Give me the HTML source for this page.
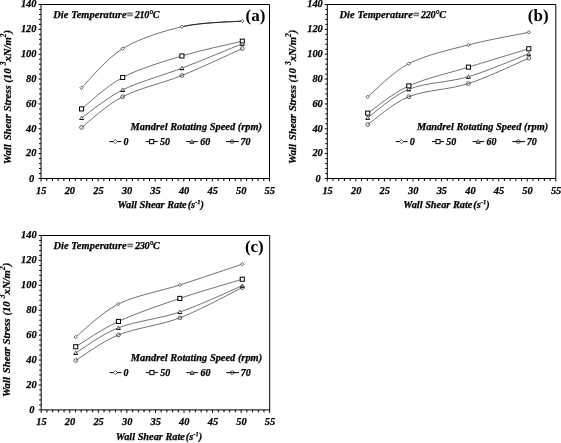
<!DOCTYPE html><html><head><meta charset="utf-8"><style>
html,body{margin:0;padding:0;background:#fff;}
svg{display:block;}
#w{}
.lb{font-family:'Liberation Serif',serif;font-weight:bold;font-style:italic;font-size:10px;fill:#000;stroke:#000;stroke-width:0.25px;}
.tl{font-size:10.4px;}
.pl{font-family:'Liberation Serif',serif;font-weight:bold;font-size:17px;fill:#000;}
.fr{fill:none;stroke:#000;stroke-width:1;}
.ax{fill:none;stroke:#000;stroke-width:1;}
.tk{fill:none;stroke:#000;stroke-width:1;}
.ln{fill:none;stroke:#333;stroke-width:0.7;}
.mk{fill:none;stroke:#222;stroke-width:0.7;}
.lg{fill:none;stroke:#000;stroke-width:1;}
.tb{fill:none;stroke:#000;stroke-width:0.9;}
.wf{fill:#fff;}
.sq{stroke:#000;stroke-width:1.0;}
</style></head><body>
<div id="w"><svg width="561" height="443" viewBox="0 0 561 443">
<rect width="561" height="443" fill="#fff"/>
<g>
<g transform="translate(0.00,0.00)">
<path d="M41.00,4.50 H269.50 V178.50" class="fr"/>
<path d="M41.00,4.50 V178.50 H269.50" class="ax"/>
<path d="M41.00,178.50 H38.50 M41.00,173.53 H39.00 M41.00,168.56 H39.00 M41.00,163.59 H39.00 M41.00,158.61 H39.00 M41.00,153.64 H38.50 M41.00,148.67 H39.00 M41.00,143.70 H39.00 M41.00,138.73 H39.00 M41.00,133.76 H39.00 M41.00,128.79 H38.50 M41.00,123.81 H39.00 M41.00,118.84 H39.00 M41.00,113.87 H39.00 M41.00,108.90 H39.00 M41.00,103.93 H38.50 M41.00,98.96 H39.00 M41.00,93.99 H39.00 M41.00,89.01 H39.00 M41.00,84.04 H39.00 M41.00,79.07 H38.50 M41.00,74.10 H39.00 M41.00,69.13 H39.00 M41.00,64.16 H39.00 M41.00,59.19 H39.00 M41.00,54.21 H38.50 M41.00,49.24 H39.00 M41.00,44.27 H39.00 M41.00,39.30 H39.00 M41.00,34.33 H39.00 M41.00,29.36 H38.50 M41.00,24.39 H39.00 M41.00,19.41 H39.00 M41.00,14.44 H39.00 M41.00,9.47 H39.00 M41.00,4.50 H38.50 M41.00,178.50 V181.50 M46.71,178.50 V181.00 M52.42,178.50 V181.00 M58.14,178.50 V181.00 M63.85,178.50 V181.00 M69.56,178.50 V181.50 M75.28,178.50 V181.00 M80.99,178.50 V181.00 M86.70,178.50 V181.00 M92.41,178.50 V181.00 M98.12,178.50 V181.50 M103.84,178.50 V181.00 M109.55,178.50 V181.00 M115.26,178.50 V181.00 M120.97,178.50 V181.00 M126.69,178.50 V181.50 M132.40,178.50 V181.00 M138.11,178.50 V181.00 M143.82,178.50 V181.00 M149.54,178.50 V181.00 M155.25,178.50 V181.50 M160.96,178.50 V181.00 M166.68,178.50 V181.00 M172.39,178.50 V181.00 M178.10,178.50 V181.00 M183.81,178.50 V181.50 M189.53,178.50 V181.00 M195.24,178.50 V181.00 M200.95,178.50 V181.00 M206.66,178.50 V181.00 M212.38,178.50 V181.50 M218.09,178.50 V181.00 M223.80,178.50 V181.00 M229.51,178.50 V181.00 M235.22,178.50 V181.00 M240.94,178.50 V181.50 M246.65,178.50 V181.00 M252.36,178.50 V181.00 M258.07,178.50 V181.00 M263.79,178.50 V181.00 M269.50,178.50 V181.50" class="tk"/>
<text x="34.30" y="181.90" class="lb tl" text-anchor="end">0</text>
<text x="36.50" y="156.44" class="lb tl" text-anchor="end">20</text>
<text x="36.50" y="131.59" class="lb tl" text-anchor="end">40</text>
<text x="36.50" y="106.73" class="lb tl" text-anchor="end">60</text>
<text x="36.50" y="81.87" class="lb tl" text-anchor="end">80</text>
<text x="36.50" y="57.01" class="lb tl" text-anchor="end">100</text>
<text x="36.50" y="32.16" class="lb tl" text-anchor="end">120</text>
<text x="36.50" y="7.30" class="lb tl" text-anchor="end">140</text>
<text x="41.30" y="193.80" class="lb tl" text-anchor="middle">15</text>
<text x="69.86" y="193.80" class="lb tl" text-anchor="middle">20</text>
<text x="98.42" y="193.80" class="lb tl" text-anchor="middle">25</text>
<text x="126.99" y="193.80" class="lb tl" text-anchor="middle">30</text>
<text x="155.55" y="193.80" class="lb tl" text-anchor="middle">35</text>
<text x="184.11" y="193.80" class="lb tl" text-anchor="middle">40</text>
<text x="212.68" y="193.80" class="lb tl" text-anchor="middle">45</text>
<text x="241.24" y="193.80" class="lb tl" text-anchor="middle">50</text>
<text x="269.80" y="193.80" class="lb tl" text-anchor="middle">55</text>
<text x="117.60" y="208.40" class="lb" style="font-size:10.3px">Wall Shear Rate<tspan dx="1">(s</tspan><tspan dy="-4" font-size="6.5">-1</tspan><tspan dy="4">)</tspan></text>
<text transform="translate(10.50,164.20) rotate(-90)" class="lb yl" style="font-size:10.7px">Wall <tspan dx="1.2">Shear</tspan> Stress (10 <tspan dy="-5" dx="0.5" font-size="7.5">3</tspan><tspan dy="5">xN/m</tspan><tspan dy="-5" font-size="7.5">2</tspan><tspan dy="5">)</tspan></text>
<text x="53.2" y="17.5" class="lb" style="font-size:10.4px;letter-spacing:0.09px">Die Temperature</text>
<text x="127.0" y="17.5" class="lb" style="font-size:10.4px;fill:#555;stroke:#777;stroke-width:0.8px">=</text>
<text x="134.7" y="17.5" class="lb" style="font-size:10.2px;letter-spacing:-0.3px">210°C</text>
<text x="245.60" y="21" class="pl">(a)</text>
<text x="130.6" y="130.1" class="lb" style="font-size:10.4px">Mandrel Rotating Speed (rpm)</text>
<path d="M109.40,141.60 H121.25" class="lg"/>
<path d="M115.25,139.50 L117.35,141.60 L115.25,143.70 L113.15,141.60 Z" class="mk wf"/>
<text x="123.40" y="144.60" class="lb">0</text>
<path d="M145.60,141.60 H157.75" class="lg"/>
<rect x="149.65" y="139.55" width="4.10" height="4.10" class="mk sq wf"/>
<text x="160.05" y="144.60" class="lb">50</text>
<path d="M186.25,141.60 H197.75" class="lg"/>
<path d="M191.90,139.70 L193.80,143.12 L190.00,143.12 Z" class="mk wf"/><path d="M189.80,143.12 H194.00" class="tb"/>
<text x="200.30" y="144.60" class="lb">60</text>
<path d="M226.00,141.60 H238.75" class="lg"/>
<circle cx="232.00" cy="141.60" r="1.9" class="mk"/>
<text x="240.55" y="144.60" class="lb">70</text>
<path d="M81.56,87.77 C88.41,81.25 105.96,58.79 122.69,48.62 C139.42,38.45 161.99,31.35 181.93,26.75 C201.86,22.15 232.24,21.98 242.31,21.03" class="ln"/>
<path d="M181.93,26.75 C201.86,22.15 232.24,21.98 242.31,21.03" class="ln" style="stroke:#111;stroke-width:0.85"/>
<path d="M81.56,108.90 C88.41,103.66 105.96,86.28 122.69,77.46 C139.42,68.63 161.99,62.00 181.93,55.95 C201.86,49.91 232.24,43.63 242.31,41.16" class="ln"/>
<path d="M81.56,117.97 C88.41,113.29 105.96,98.19 122.69,89.88 C139.42,81.58 161.99,75.82 181.93,68.13 C201.86,60.45 232.24,47.83 242.31,43.77" class="ln"/>
<path d="M81.56,127.42 C88.41,122.30 105.96,105.38 122.69,96.72 C139.42,88.06 161.99,83.50 181.93,75.47 C201.86,67.43 232.24,52.99 242.31,48.50" class="ln"/>
<path d="M81.56,86.07 L83.26,87.77 L81.56,89.47 L79.86,87.77 Z" class="mk wf"/>
<path d="M122.69,46.92 L124.39,48.62 L122.69,50.32 L120.99,48.62 Z" class="mk wf"/>
<path d="M181.93,25.05 L183.63,26.75 L181.93,28.45 L180.23,26.75 Z" class="mk wf"/>
<path d="M242.31,19.33 L244.01,21.03 L242.31,22.73 L240.61,21.03 Z" class="mk wf"/>
<rect x="79.51" y="106.85" width="4.10" height="4.10" class="mk sq wf"/>
<rect x="120.64" y="75.41" width="4.10" height="4.10" class="mk sq wf"/>
<rect x="179.88" y="53.90" width="4.10" height="4.10" class="mk sq wf"/>
<rect x="240.26" y="39.11" width="4.10" height="4.10" class="mk sq wf"/>
<path d="M81.56,116.07 L83.46,119.49 L79.66,119.49 Z" class="mk wf"/><path d="M79.46,119.49 H83.66" class="tb"/>
<path d="M122.69,87.98 L124.59,91.40 L120.79,91.40 Z" class="mk wf"/><path d="M120.59,91.40 H124.79" class="tb"/>
<path d="M181.93,66.23 L183.83,69.65 L180.03,69.65 Z" class="mk wf"/><path d="M179.83,69.65 H184.03" class="tb"/>
<path d="M242.31,41.87 L244.21,45.29 L240.41,45.29 Z" class="mk wf"/><path d="M240.21,45.29 H244.41" class="tb"/>
<circle cx="81.56" cy="127.42" r="1.9" class="mk"/>
<circle cx="122.69" cy="96.72" r="1.9" class="mk"/>
<circle cx="181.93" cy="75.47" r="1.9" class="mk"/>
<circle cx="242.31" cy="48.50" r="1.9" class="mk"/>
</g>
<g transform="translate(286.30,0.00)">
<path d="M41.00,4.50 H269.50 V178.50" class="fr"/>
<path d="M41.00,4.50 V178.50 H269.50" class="ax"/>
<path d="M41.00,178.50 H38.50 M41.00,173.53 H39.00 M41.00,168.56 H39.00 M41.00,163.59 H39.00 M41.00,158.61 H39.00 M41.00,153.64 H38.50 M41.00,148.67 H39.00 M41.00,143.70 H39.00 M41.00,138.73 H39.00 M41.00,133.76 H39.00 M41.00,128.79 H38.50 M41.00,123.81 H39.00 M41.00,118.84 H39.00 M41.00,113.87 H39.00 M41.00,108.90 H39.00 M41.00,103.93 H38.50 M41.00,98.96 H39.00 M41.00,93.99 H39.00 M41.00,89.01 H39.00 M41.00,84.04 H39.00 M41.00,79.07 H38.50 M41.00,74.10 H39.00 M41.00,69.13 H39.00 M41.00,64.16 H39.00 M41.00,59.19 H39.00 M41.00,54.21 H38.50 M41.00,49.24 H39.00 M41.00,44.27 H39.00 M41.00,39.30 H39.00 M41.00,34.33 H39.00 M41.00,29.36 H38.50 M41.00,24.39 H39.00 M41.00,19.41 H39.00 M41.00,14.44 H39.00 M41.00,9.47 H39.00 M41.00,4.50 H38.50 M41.00,178.50 V181.50 M46.71,178.50 V181.00 M52.42,178.50 V181.00 M58.14,178.50 V181.00 M63.85,178.50 V181.00 M69.56,178.50 V181.50 M75.28,178.50 V181.00 M80.99,178.50 V181.00 M86.70,178.50 V181.00 M92.41,178.50 V181.00 M98.12,178.50 V181.50 M103.84,178.50 V181.00 M109.55,178.50 V181.00 M115.26,178.50 V181.00 M120.97,178.50 V181.00 M126.69,178.50 V181.50 M132.40,178.50 V181.00 M138.11,178.50 V181.00 M143.82,178.50 V181.00 M149.54,178.50 V181.00 M155.25,178.50 V181.50 M160.96,178.50 V181.00 M166.68,178.50 V181.00 M172.39,178.50 V181.00 M178.10,178.50 V181.00 M183.81,178.50 V181.50 M189.53,178.50 V181.00 M195.24,178.50 V181.00 M200.95,178.50 V181.00 M206.66,178.50 V181.00 M212.38,178.50 V181.50 M218.09,178.50 V181.00 M223.80,178.50 V181.00 M229.51,178.50 V181.00 M235.22,178.50 V181.00 M240.94,178.50 V181.50 M246.65,178.50 V181.00 M252.36,178.50 V181.00 M258.07,178.50 V181.00 M263.79,178.50 V181.00 M269.50,178.50 V181.50" class="tk"/>
<text x="34.30" y="181.90" class="lb tl" text-anchor="end">0</text>
<text x="36.50" y="156.44" class="lb tl" text-anchor="end">20</text>
<text x="36.50" y="131.59" class="lb tl" text-anchor="end">40</text>
<text x="36.50" y="106.73" class="lb tl" text-anchor="end">60</text>
<text x="36.50" y="81.87" class="lb tl" text-anchor="end">80</text>
<text x="36.50" y="57.01" class="lb tl" text-anchor="end">100</text>
<text x="36.50" y="32.16" class="lb tl" text-anchor="end">120</text>
<text x="36.50" y="7.30" class="lb tl" text-anchor="end">140</text>
<text x="41.30" y="193.80" class="lb tl" text-anchor="middle">15</text>
<text x="69.86" y="193.80" class="lb tl" text-anchor="middle">20</text>
<text x="98.42" y="193.80" class="lb tl" text-anchor="middle">25</text>
<text x="126.99" y="193.80" class="lb tl" text-anchor="middle">30</text>
<text x="155.55" y="193.80" class="lb tl" text-anchor="middle">35</text>
<text x="184.11" y="193.80" class="lb tl" text-anchor="middle">40</text>
<text x="212.68" y="193.80" class="lb tl" text-anchor="middle">45</text>
<text x="241.24" y="193.80" class="lb tl" text-anchor="middle">50</text>
<text x="269.80" y="193.80" class="lb tl" text-anchor="middle">55</text>
<text x="117.00" y="208.20" class="lb" style="font-size:10.3px">Wall Shear Rate<tspan dx="1">(s</tspan><tspan dy="-4" font-size="6.5">-1</tspan><tspan dy="4">)</tspan></text>
<text transform="translate(9.80,164.00) rotate(-90)" class="lb yl" style="font-size:10.7px">Wall <tspan dx="1.2">Shear</tspan> Stress (10 <tspan dy="-5" dx="0.5" font-size="7.5">3</tspan><tspan dy="5">xN/m</tspan><tspan dy="-5" font-size="7.5">2</tspan><tspan dy="5">)</tspan></text>
<text x="53.2" y="17.5" class="lb" style="font-size:10.4px;letter-spacing:0.09px">Die Temperature</text>
<text x="127.0" y="17.5" class="lb" style="font-size:10.4px;fill:#555;stroke:#777;stroke-width:0.8px">=</text>
<text x="134.7" y="17.5" class="lb" style="font-size:10.2px;letter-spacing:-0.3px">220°C</text>
<text x="241.50" y="21" class="pl">(b)</text>
<text x="130.6" y="130.1" class="lb" style="font-size:10.4px">Mandrel Rotating Speed (rpm)</text>
<path d="M109.40,141.60 H121.25" class="lg"/>
<path d="M115.25,139.50 L117.35,141.60 L115.25,143.70 L113.15,141.60 Z" class="mk wf"/>
<text x="123.40" y="144.60" class="lb">0</text>
<path d="M145.60,141.60 H157.75" class="lg"/>
<rect x="149.65" y="139.55" width="4.10" height="4.10" class="mk sq wf"/>
<text x="160.05" y="144.60" class="lb">50</text>
<path d="M186.25,141.60 H197.75" class="lg"/>
<path d="M191.90,139.70 L193.80,143.12 L190.00,143.12 Z" class="mk wf"/><path d="M189.80,143.12 H194.00" class="tb"/>
<text x="200.30" y="144.60" class="lb">60</text>
<path d="M226.00,141.60 H238.75" class="lg"/>
<circle cx="232.00" cy="141.60" r="1.9" class="mk"/>
<text x="240.55" y="144.60" class="lb">70</text>
<path d="M81.39,96.84 C88.24,91.31 105.73,72.32 122.52,63.66 C139.30,55.00 162.11,50.11 182.10,44.89 C202.09,39.67 232.42,34.43 242.48,32.34" class="ln"/>
<path d="M81.39,113.13 C88.24,108.59 105.73,93.57 122.52,85.91 C139.30,78.24 162.11,73.33 182.10,67.14 C202.09,60.95 232.42,51.81 242.48,48.75" class="ln"/>
<path d="M81.39,117.85 C88.24,113.08 105.73,96.12 122.52,89.26 C139.30,82.41 162.11,82.63 182.10,76.71 C202.09,70.79 232.42,57.55 242.48,53.72" class="ln"/>
<path d="M81.39,124.56 C88.24,119.92 105.73,103.56 122.52,96.72 C139.30,89.88 162.11,89.97 182.10,83.55 C202.09,77.12 232.42,62.42 242.48,58.19" class="ln"/>
<path d="M81.39,95.14 L83.09,96.84 L81.39,98.54 L79.69,96.84 Z" class="mk wf"/>
<path d="M122.52,61.96 L124.22,63.66 L122.52,65.36 L120.82,63.66 Z" class="mk wf"/>
<path d="M182.10,43.19 L183.80,44.89 L182.10,46.59 L180.40,44.89 Z" class="mk wf"/>
<path d="M242.48,30.64 L244.18,32.34 L242.48,34.04 L240.78,32.34 Z" class="mk wf"/>
<rect x="79.34" y="111.08" width="4.10" height="4.10" class="mk sq wf"/>
<rect x="120.47" y="83.86" width="4.10" height="4.10" class="mk sq wf"/>
<rect x="180.05" y="65.09" width="4.10" height="4.10" class="mk sq wf"/>
<rect x="240.43" y="46.70" width="4.10" height="4.10" class="mk sq wf"/>
<path d="M81.39,115.95 L83.29,119.37 L79.49,119.37 Z" class="mk wf"/><path d="M79.29,119.37 H83.49" class="tb"/>
<path d="M122.52,87.36 L124.42,90.78 L120.62,90.78 Z" class="mk wf"/><path d="M120.42,90.78 H124.62" class="tb"/>
<path d="M182.10,74.81 L184.00,78.23 L180.20,78.23 Z" class="mk wf"/><path d="M180.00,78.23 H184.20" class="tb"/>
<path d="M242.48,51.82 L244.38,55.24 L240.58,55.24 Z" class="mk wf"/><path d="M240.38,55.24 H244.58" class="tb"/>
<circle cx="81.39" cy="124.56" r="1.9" class="mk"/>
<circle cx="122.52" cy="96.72" r="1.9" class="mk"/>
<circle cx="182.10" cy="83.55" r="1.9" class="mk"/>
<circle cx="242.48" cy="58.19" r="1.9" class="mk"/>
</g>
<g transform="translate(0.20,231.00)">
<path d="M41.00,4.50 H269.50 V178.90" class="fr"/>
<path d="M41.00,4.50 V178.90 H269.50" class="ax"/>
<path d="M41.00,178.90 H38.50 M41.00,173.92 H39.00 M41.00,168.93 H39.00 M41.00,163.95 H39.00 M41.00,158.97 H39.00 M41.00,153.99 H38.50 M41.00,149.00 H39.00 M41.00,144.02 H39.00 M41.00,139.04 H39.00 M41.00,134.05 H39.00 M41.00,129.07 H38.50 M41.00,124.09 H39.00 M41.00,119.11 H39.00 M41.00,114.12 H39.00 M41.00,109.14 H39.00 M41.00,104.16 H38.50 M41.00,99.17 H39.00 M41.00,94.19 H39.00 M41.00,89.21 H39.00 M41.00,84.23 H39.00 M41.00,79.24 H38.50 M41.00,74.26 H39.00 M41.00,69.28 H39.00 M41.00,64.29 H39.00 M41.00,59.31 H39.00 M41.00,54.33 H38.50 M41.00,49.35 H39.00 M41.00,44.36 H39.00 M41.00,39.38 H39.00 M41.00,34.40 H39.00 M41.00,29.41 H38.50 M41.00,24.43 H39.00 M41.00,19.45 H39.00 M41.00,14.47 H39.00 M41.00,9.48 H39.00 M41.00,4.50 H38.50 M41.00,178.90 V181.90 M46.71,178.90 V181.40 M52.42,178.90 V181.40 M58.14,178.90 V181.40 M63.85,178.90 V181.40 M69.56,178.90 V181.90 M75.28,178.90 V181.40 M80.99,178.90 V181.40 M86.70,178.90 V181.40 M92.41,178.90 V181.40 M98.12,178.90 V181.90 M103.84,178.90 V181.40 M109.55,178.90 V181.40 M115.26,178.90 V181.40 M120.97,178.90 V181.40 M126.69,178.90 V181.90 M132.40,178.90 V181.40 M138.11,178.90 V181.40 M143.82,178.90 V181.40 M149.54,178.90 V181.40 M155.25,178.90 V181.90 M160.96,178.90 V181.40 M166.68,178.90 V181.40 M172.39,178.90 V181.40 M178.10,178.90 V181.40 M183.81,178.90 V181.90 M189.53,178.90 V181.40 M195.24,178.90 V181.40 M200.95,178.90 V181.40 M206.66,178.90 V181.40 M212.38,178.90 V181.90 M218.09,178.90 V181.40 M223.80,178.90 V181.40 M229.51,178.90 V181.40 M235.22,178.90 V181.40 M240.94,178.90 V181.90 M246.65,178.90 V181.40 M252.36,178.90 V181.40 M258.07,178.90 V181.40 M263.79,178.90 V181.40 M269.50,178.90 V181.90" class="tk"/>
<text x="34.30" y="182.30" class="lb tl" text-anchor="end">0</text>
<text x="36.50" y="156.79" class="lb tl" text-anchor="end">20</text>
<text x="36.50" y="131.87" class="lb tl" text-anchor="end">40</text>
<text x="36.50" y="106.96" class="lb tl" text-anchor="end">60</text>
<text x="36.50" y="82.04" class="lb tl" text-anchor="end">80</text>
<text x="36.50" y="57.13" class="lb tl" text-anchor="end">100</text>
<text x="36.50" y="32.21" class="lb tl" text-anchor="end">120</text>
<text x="36.50" y="7.30" class="lb tl" text-anchor="end">140</text>
<text x="41.30" y="193.80" class="lb tl" text-anchor="middle">15</text>
<text x="69.86" y="193.80" class="lb tl" text-anchor="middle">20</text>
<text x="98.42" y="193.80" class="lb tl" text-anchor="middle">25</text>
<text x="126.99" y="193.80" class="lb tl" text-anchor="middle">30</text>
<text x="155.55" y="193.80" class="lb tl" text-anchor="middle">35</text>
<text x="184.11" y="193.80" class="lb tl" text-anchor="middle">40</text>
<text x="212.68" y="193.80" class="lb tl" text-anchor="middle">45</text>
<text x="241.24" y="193.80" class="lb tl" text-anchor="middle">50</text>
<text x="269.80" y="193.80" class="lb tl" text-anchor="middle">55</text>
<text x="115.60" y="208.70" class="lb" style="font-size:10.3px">Wall Shear Rate<tspan dx="1">(s</tspan><tspan dy="-4" font-size="6.5">-1</tspan><tspan dy="4">)</tspan></text>
<text transform="translate(9.30,166.10) rotate(-90)" class="lb yl" style="font-size:10.7px">Wall <tspan dx="1.2">Shear</tspan> Stress (10 <tspan dy="-5" dx="0.5" font-size="7.5">3</tspan><tspan dy="5">xN/m</tspan><tspan dy="-5" font-size="7.5">2</tspan><tspan dy="5">)</tspan></text>
<text x="53.2" y="17.5" class="lb" style="font-size:10.4px;letter-spacing:0.09px">Die Temperature</text>
<text x="127.0" y="17.5" class="lb" style="font-size:10.4px;fill:#555;stroke:#777;stroke-width:0.8px">=</text>
<text x="134.7" y="17.5" class="lb" style="font-size:10.2px;letter-spacing:-0.3px">230°C</text>
<text x="244.70" y="21" class="pl">(c)</text>
<text x="130.6" y="130.1" class="lb" style="font-size:10.4px">Mandrel Rotating Speed (rpm)</text>
<path d="M109.40,141.60 H121.25" class="lg"/>
<path d="M115.25,139.50 L117.35,141.60 L115.25,143.70 L113.15,141.60 Z" class="mk wf"/>
<text x="123.40" y="144.60" class="lb">0</text>
<path d="M145.60,141.60 H157.75" class="lg"/>
<rect x="149.65" y="139.55" width="4.10" height="4.10" class="mk sq wf"/>
<text x="160.05" y="144.60" class="lb">50</text>
<path d="M186.25,141.60 H197.75" class="lg"/>
<path d="M191.90,139.70 L193.80,143.12 L190.00,143.12 Z" class="mk wf"/><path d="M189.80,143.12 H194.00" class="tb"/>
<text x="200.30" y="144.60" class="lb">60</text>
<path d="M226.00,141.60 H238.75" class="lg"/>
<circle cx="232.00" cy="141.60" r="1.9" class="mk"/>
<text x="240.55" y="144.60" class="lb">70</text>
<path d="M75.50,106.03 C82.63,100.52 100.88,81.69 118.23,73.01 C135.59,64.34 159.00,60.60 179.64,53.95 C200.28,47.31 231.67,36.62 242.08,33.15" class="ln"/>
<path d="M75.50,115.74 C82.63,111.53 100.88,98.51 118.23,90.45 C135.59,82.40 159.00,74.45 179.64,67.41 C200.28,60.37 231.67,51.42 242.08,48.22" class="ln"/>
<path d="M75.50,121.85 C82.63,117.67 100.88,103.62 118.23,96.81 C135.59,90.00 159.00,88.00 179.64,80.99 C200.28,73.97 231.67,59.08 242.08,54.70" class="ln"/>
<path d="M75.50,129.45 C82.63,125.19 100.88,111.01 118.23,103.91 C135.59,96.81 159.00,94.73 179.64,86.84 C200.28,78.95 231.67,61.62 242.08,56.57" class="ln"/>
<path d="M75.50,104.33 L77.20,106.03 L75.50,107.73 L73.80,106.03 Z" class="mk wf"/>
<path d="M118.23,71.31 L119.93,73.01 L118.23,74.71 L116.53,73.01 Z" class="mk wf"/>
<path d="M179.64,52.25 L181.34,53.95 L179.64,55.65 L177.94,53.95 Z" class="mk wf"/>
<path d="M242.08,31.45 L243.78,33.15 L242.08,34.85 L240.38,33.15 Z" class="mk wf"/>
<rect x="73.45" y="113.69" width="4.10" height="4.10" class="mk sq wf"/>
<rect x="116.18" y="88.40" width="4.10" height="4.10" class="mk sq wf"/>
<rect x="177.59" y="65.36" width="4.10" height="4.10" class="mk sq wf"/>
<rect x="240.03" y="46.17" width="4.10" height="4.10" class="mk sq wf"/>
<path d="M75.50,119.95 L77.40,123.37 L73.60,123.37 Z" class="mk wf"/><path d="M73.40,123.37 H77.60" class="tb"/>
<path d="M118.23,94.91 L120.13,98.33 L116.33,98.33 Z" class="mk wf"/><path d="M116.13,98.33 H120.33" class="tb"/>
<path d="M179.64,79.09 L181.54,82.51 L177.74,82.51 Z" class="mk wf"/><path d="M177.54,82.51 H181.74" class="tb"/>
<path d="M242.08,52.80 L243.98,56.22 L240.18,56.22 Z" class="mk wf"/><path d="M239.98,56.22 H244.18" class="tb"/>
<circle cx="75.50" cy="129.45" r="1.9" class="mk"/>
<circle cx="118.23" cy="103.91" r="1.9" class="mk"/>
<circle cx="179.64" cy="86.84" r="1.9" class="mk"/>
<circle cx="242.08" cy="56.57" r="1.9" class="mk"/>
</g>
</g>
</svg></div></body></html>
